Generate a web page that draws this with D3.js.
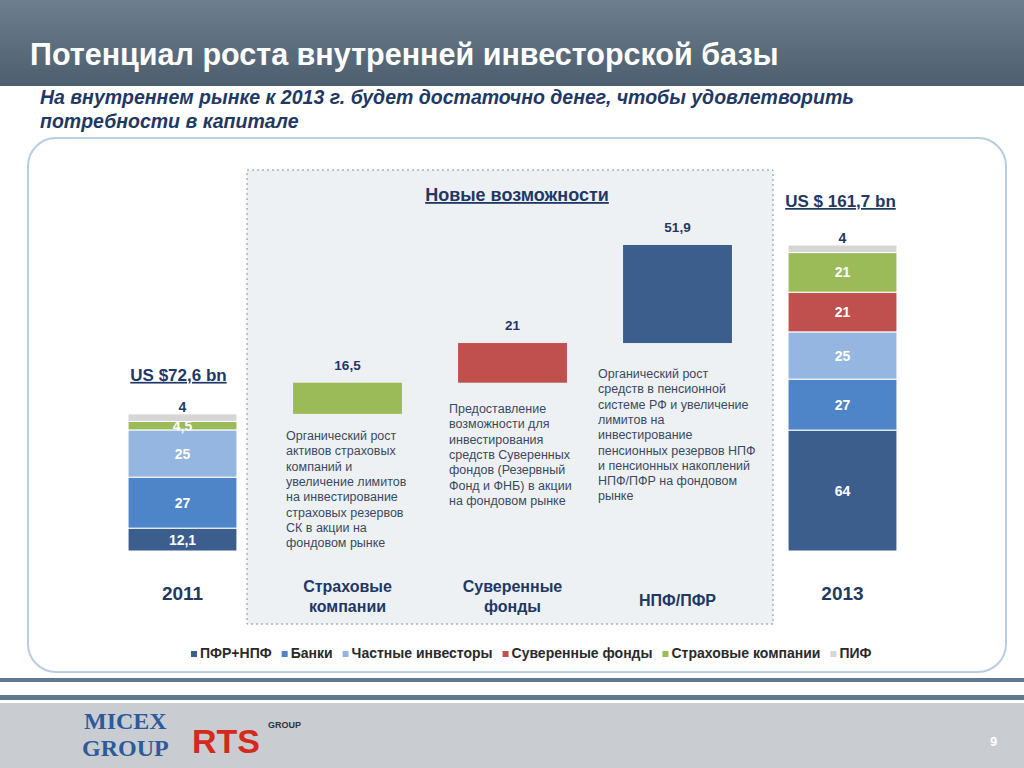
<!DOCTYPE html>
<html><head><meta charset="utf-8">
<script src="https://cdn.jsdelivr.net/npm/d3@7"></script>
<style>body{margin:0;background:#fff}svg{font-family:Arial,"Liberation Sans",sans-serif}</style>
</head><body>
<svg width="1024" height="768"></svg>
<script>
// data
var categories = ["2011", "Страховые\nкомпании", "Суверенные\nфонды", "НПФ/ПФР", "2013"];
var seriesNames = ["ПФР+НПФ", "Банки", "Частные инвесторы", "Суверенные фонды", "Страховые компании", "ПИФ"];
var colors = ["#3b5e8c", "#4e85c8", "#94b6e0", "#c0504d", "#9bbb59", "#d6d6d6"];
var values2011 = [12.1, 27, 25, 0, 4.5, 4];
var values2013 = [64, 27, 25, 21, 21, 4];
var floatSeries = [4, 3, 0];               // series index for each floating step
var floatValues = [16.5, 21, 51.9];
var totals = ["US $72,6 bn", "US $ 161,7 bn"];
var notes = [
  ["Органический рост", "активов страховых", "компаний и", "увеличение лимитов", "на инвестирование", "страховых резервов", "СК в акции на", "фондовом рынке"],
  ["Предоставление", "возможности для", "инвестирования", "средств Суверенных", "фондов (Резервный", "Фонд и ФНБ) в акции", "на фондовом рынке"],
  ["Органический рост", "средств в пенсионной", "системе РФ и увеличение", "лимитов на", "инвестирование", "пенсионных резервов НПФ", "и пенсионных накоплений", "НПФ/ПФР на фондовом", "рынке"]
];

var svg = d3.select("svg");
var dark = "#1f3864";

// header
var g0 = svg.append("defs").append("linearGradient").attr("id", "hd").attr("x2", 0).attr("y2", 1);
g0.append("stop").attr("offset", 0).attr("stop-color", "#6d7f8e");
g0.append("stop").attr("offset", 1).attr("stop-color", "#4d5f6e");
svg.append("rect").attr("width", 1024).attr("height", 86).attr("fill", "url(#hd)");
svg.append("text").attr("x", 30).attr("y", 65).attr("fill", "#fff").attr("font-size", 30.5).attr("font-weight", "bold")
  .text("Потенциал роста внутренней инвесторской базы");
svg.append("text").attr("x", 40).attr("y", 104).attr("fill", dark).attr("font-size", 19.5).attr("font-weight", "bold").attr("font-style", "italic")
  .text("На внутреннем рынке к 2013 г. будет достаточно денег, чтобы удовлетворить");
svg.append("text").attr("x", 40).attr("y", 128).attr("fill", dark).attr("font-size", 19.5).attr("font-weight", "bold").attr("font-style", "italic")
  .text("потребности в капитале");

// panel
svg.append("rect").attr("x", 28).attr("y", 138).attr("width", 978).attr("height", 534).attr("rx", 28)
  .attr("fill", "#fff").attr("stroke", "#b9cde3").attr("stroke-width", 2);
svg.append("rect").attr("x", 247).attr("y", 170).attr("width", 526).attr("height", 454)
  .attr("fill", "#eef1f4").attr("stroke", "#7f8fa6").attr("stroke-dasharray", "2,3");
svg.append("text").attr("x", 517).attr("y", 201).attr("text-anchor", "middle").attr("fill", dark)
  .attr("font-size", 18).attr("font-weight", "bold").attr("text-decoration", "underline").text("Новые возможности");

var x = d3.scaleBand().domain(categories).range([100, 925]).paddingInner(0.34).paddingOuter(0.17);
var y = d3.scaleLinear().domain([0, 162]).range([551, 245]);
var bw = x.bandwidth();

function stackBar(cat, vals) {
  var base = 0, g = svg.append("g");
  vals.forEach(function (v, i) {
    if (!v) return;
    g.append("rect").attr("x", x(cat)).attr("width", bw).attr("y", y(base + v)).attr("height", y(base) - y(base + v))
      .attr("fill", colors[i]).attr("stroke", "#fff").attr("stroke-width", 1);
    var ty = i == 5 ? y(base + v) - 2 : (y(base) + y(base + v)) / 2 + 5;
    g.append("text").attr("x", x(cat) + bw / 2).attr("y", ty).attr("text-anchor", "middle")
      .attr("fill", i == 5 ? dark : "#fff").attr("font-size", 14).attr("font-weight", "bold")
      .text(String(v).replace(".", ","));
    base += v;
  });
  return base;
}
var t2011 = stackBar(categories[0], values2011);
stackBar(categories[4], values2013);

// floating steps
var base = t2011;
floatValues.forEach(function (v, i) {
  var cat = categories[i + 1];
  svg.append("rect").attr("x", x(cat)).attr("width", bw).attr("y", y(base + v)).attr("height", y(base) - y(base + v))
    .attr("fill", colors[floatSeries[i]]);
  svg.append("text").attr("x", x(cat) + bw / 2).attr("y", y(base + v) - 13).attr("text-anchor", "middle")
    .attr("fill", dark).attr("font-size", 13.5).attr("font-weight", "bold").text(String(v).replace(".", ","));
  base += v;
});

// totals
[[0, values2011], [4, values2013]].forEach(function (d, j) {
  var s = d3.sum(d[1]);
  svg.append("text").attr("x", x(categories[d[0]]) + bw / 2 - (j ? 2 : 4)).attr("y", y(s) - (j ? 38 : 33)).attr("text-anchor", "middle")
    .attr("fill", dark).attr("font-size", 17).attr("font-weight", "bold").attr("text-decoration", "underline").text(totals[j]);
});

// notes
var noteX = [286, 449, 598], noteY = [440, 413, 378];
notes.forEach(function (lines, i) {
  var t = svg.append("text").attr("x", noteX[i]).attr("y", noteY[i]).attr("fill", "#3a4a5e").attr("font-size", 12.5);
  lines.forEach(function (l, k) { t.append("tspan").attr("x", noteX[i]).attr("dy", k ? 15.3 : 0).text(l); });
});

// category labels
categories.forEach(function (c) {
  var lines = c.split("\n");
  var t = svg.append("text").attr("text-anchor", "middle").attr("fill", dark).attr("font-weight", "bold")
    .attr("font-size", lines[0].match(/^\d/) ? 19 : 16);
  var y0 = lines.length > 1 ? 592 : 600;
  if (c == "НПФ/ПФР") y0 = 606;
  lines.forEach(function (l, k) {
    t.append("tspan").attr("x", x(c) + bw / 2).attr("y", y0 + k * 20).text(l);
  });
});

// legend
var lg = svg.append("g").attr("transform", "translate(191,658)");
var lx = 0;
seriesNames.forEach(function (n, i) {
  lg.append("rect").attr("x", lx).attr("y", -7).attr("width", 6).attr("height", 6).attr("fill", colors[i]);
  var t = lg.append("text").attr("x", lx + 9).attr("y", 0).attr("font-size", 14).attr("font-weight", "bold").attr("fill", "#2a2a2a").text(n);
  lx += t.node().getComputedTextLength() + 19;
});

// footer
svg.append("rect").attr("y", 678).attr("width", 1024).attr("height", 4).attr("fill", "#5f7a91");
svg.append("rect").attr("y", 695).attr("width", 1024).attr("height", 5).attr("fill", "#5f7a91");
svg.append("rect").attr("y", 703).attr("width", 1024).attr("height", 65).attr("fill", "#c9cdd1");
svg.append("text").attr("x", 84).attr("y", 729).attr("fill", "#2d5a9a").attr("font-family", "Liberation Serif,serif")
  .attr("font-size", 24).attr("font-weight", "bold").text("MICEX");
svg.append("text").attr("x", 82).attr("y", 756).attr("fill", "#2d5a9a").attr("font-family", "Liberation Serif,serif")
  .attr("font-size", 24).attr("font-weight", "bold").text("GROUP");
svg.append("text").attr("x", 192).attr("y", 753).attr("fill", "#d42a1e").attr("font-size", 34).attr("font-weight", "900").text("RTS");
svg.append("text").attr("x", 268).attr("y", 728).attr("fill", "#333").attr("font-size", 9).attr("font-weight", "bold").text("GROUP");
svg.append("text").attr("x", 990).attr("y", 746).attr("fill", "#fff").attr("font-size", 13).attr("font-weight", "bold").text("9");
</script>
</body></html>
